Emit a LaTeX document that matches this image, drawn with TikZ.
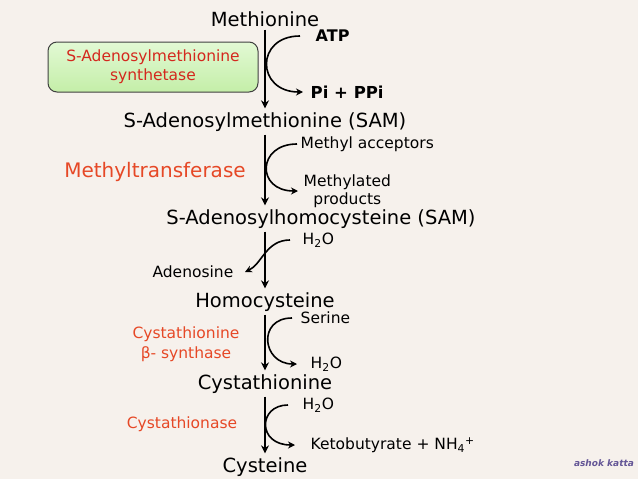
\documentclass[tikz,border=0pt]{standalone}
\usepackage{fontspec}
\setmainfont{DejaVu Sans}
\usetikzlibrary{arrows.meta,positioning}

\definecolor{paper}{RGB}{246,241,236}
\definecolor{enzred}{RGB}{230,72,38}
\definecolor{boxred}{RGB}{212,40,30}
\definecolor{boxtop}{RGB}{226,249,212}
\definecolor{boxbot}{RGB}{196,238,168}
\definecolor{signpurple}{RGB}{100,86,150}

\tikzset{
  metab/.style  = {font=\fontsize{19.5}{22}\selectfont, inner sep=1pt},
  side/.style   = {font=\fontsize{15.5}{18}\selectfont, inner sep=0.5pt, align=center},
  enzyme/.style = {text=enzred, font=\fontsize{15.5}{19.5}\selectfont, align=center, inner sep=1pt},
  synbox/.style = {draw=black!75, line width=1pt, rounded corners=9pt,
                   top color=boxtop, bottom color=boxbot,
                   minimum width=210pt, minimum height=50pt,
                   text=boxred, align=center,
                   font=\fontsize{15.5}{19}\selectfont},
  flow/.style   = {line width=1.6pt, -{Stealth[length=8pt,width=8pt]},
                   shorten <=2pt, shorten >=3pt},
  sidearrow/.style = {line width=1.6pt, -{Stealth[length=7pt,width=7pt]}},
}

\begin{document}
\begin{tikzpicture}[x=1pt,y=-1pt]
  \fill[paper] (0,0) rectangle (638,479);
  \useasboundingbox (0,0) rectangle (638,479);

  %%%%%%%%%%%%%%%%% main chain %%%%%%%%%%%%%%%%%%%
\node[metab] (met) at (265,19)  {Methionine};
\node[metab] (sam) at (265,122) {S-Adenosylmethionine (SAM)};
\node[metab] (sah) at (321,219) {S-Adenosylhomocysteine (SAM)};
\node[metab] (hcy) at (265,302) {Homocysteine};
\node[metab] (cth) at (265,384) {Cystathionine};
\node[metab] (cys) at (265,467) {Cysteine};

  %%%%%%%%%%%%%%%%% enzymes %%%%%%%%%%%%%%%%%%%%%%
\node[synbox] (sas) at (153,67) {S-Adenosylmethionine\\synthetase};
\node[enzyme, font=\fontsize{20}{22}\selectfont] (mtr) at (155,172) {Methyltransferase};
\node[enzyme] (cbs) at (186,344) {Cystathionine\\β- synthase};
\node[enzyme] (cgl) at (182,424) {Cystathionase};

  %%%%%%%%%%%%%%%%% side compounds %%%%%%%%%%%%%%%
  % anchor=west : text starts right of the bend
\node[side, font=\fontsize{16}{18}\selectfont\bfseries, anchor=west] (atp) at (315,36) {ATP};
\node[side, font=\fontsize{16.5}{18}\selectfont\bfseries, anchor=west] (pi)  at (310,92) {Pi~+~PPi};
\node[side, anchor=west] (acc) at (300,144) {Methyl acceptors};
\node[side, anchor=west] (mep) at (303,191) {Methylated\\products};
\node[side, anchor=west] (wa)  at (302,240) {H\textsubscript{2}O};
\node[side, anchor=east] (ade) at (234,272) {Adenosine};
\node[side, anchor=west] (ser) at (300,318) {Serine};
\node[side, anchor=west] (wb)  at (310,364) {H\textsubscript{2}O};
\node[side, anchor=west] (wc)  at (302,405) {H\textsubscript{2}O};
\node[side, anchor=west] (kb)  at (310,445) {Ketobutyrate + NH\textsubscript{4}\textsuperscript{+}};

\node[text=signpurple, font=\fontsize{9}{10}\selectfont\bfseries\itshape] (sig) at (604,463) {ashok katta};

  %%%%%%%%%%%%%%%%% edges %%%%%%%%%%%%%%%%%%%%%%%
\foreach \from/\to in {met/sam, hcy/cth, cth/cys}
   {\draw[flow] (\from) -- (\to);}
\draw[flow] (sam) -- (sam.south |- sah.north);
\draw[flow] (hcy.north |- sah.south) -- (hcy);

\draw[sidearrow] ([xshift=-15pt]atp.west) .. controls +(-45,0) and +(-47,0) .. ([xshift=-7pt]pi.west);
\draw[sidearrow] ([xshift=-3pt]acc.west) .. controls +(-40,0) and +(-42,0) .. ([xshift=-5pt]mep.west);
\draw[sidearrow] ([xshift=-12pt]wa.west) .. controls +(-24,0) and +(17,-8) .. ([xshift=11pt]ade.east);
\draw[sidearrow] ([xshift=-8pt]ser.west) .. controls +(-35,0) and +(-35,0) .. ([xshift=-13pt]wb.west);
\draw[sidearrow] ([xshift=-14pt]wc.west) .. controls +(-30,0) and +(-38,0) .. ([xshift=-15pt]kb.west);
\end{tikzpicture}
\end{document}
